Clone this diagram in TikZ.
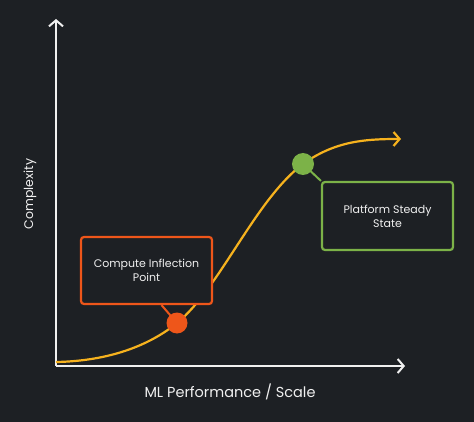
\documentclass[tikz,border=0pt]{standalone}
\usepackage{fontspec}
\setmainfont{Poppins}
\usetikzlibrary{arrows.meta,backgrounds}
\definecolor{bg}{RGB}{29,32,36}
\definecolor{ink}{RGB}{240,240,240}
\definecolor{curve}{RGB}{246,178,30}
\definecolor{infl}{RGB}{238,86,26}
\definecolor{steady}{RGB}{124,178,72}
\tikzset{
  every picture/.style={line width=1pt, font=\fontsize{11}{14}\selectfont},
  barb/.style={-{Straight Barb[length=6pt,width=14pt]}},
  axis/.style={barb, draw=ink, line width=2pt},
  growth/.style={barb, draw=curve, line width=2.2pt},
  callout/.style={rounded corners=3pt, fill=bg, line width=2.2pt, text=ink, align=center, minimum width=131pt},
  dot/.style={circle, inner sep=0pt},
  lead/.style={line width=2pt},
  axlbl/.style={text=ink},
}

\begin{document}
\begin{tikzpicture}[x=1pt, y=-1pt]
  \begin{scope}[on background layer]
    \fill[bg] (0,0) rectangle (474,422);
  \end{scope}
  \useasboundingbox (0,0) rectangle (474,422);
  % axes
  \coordinate (origin) at (56,366);
  \coordinate (ytop) at (56,19);
  \coordinate (xend) at (405,366);
  \draw[axis] (origin) -- (ytop);
  \draw[axis] (origin) -- (xend);
  \node[axlbl, rotate=90, font=\fontsize{12.5}{15}\selectfont] (ylbl) at (30,194) {Complexity};
  \node[axlbl, font=\fontsize{14.5}{17}\selectfont] (xlbl) at (230,392) {ML Performance / Scale};
  % s-curve
  \draw[growth] (56,362) .. controls (110,361) and (150,345) .. (177,323)
    .. controls (220,288) and (255,200) .. (303,164)
    .. controls (335,141) and (365,139) .. (401,139);
  % callouts
  \node[callout, draw=infl, minimum height=67pt] (inflbox) at (146.5,270.5) {Compute Inflection\\Point};
  \node[callout, draw=steady, minimum height=68pt] (steadybox) at (387.5,216) {Platform Steady\\State};
  \node[dot, fill=infl, minimum size=21pt] (inflpt) at (177,323) {};
  \node[dot, fill=steady, minimum size=22pt] (steadypt) at (303,164) {};
  \begin{scope}[on background layer]
    \draw[lead, infl] ([xshift=15pt]inflbox.south) -- (inflpt.center);
    \draw[lead, steady] (steadypt.center) -- (steadybox.north west);
  \end{scope}
\end{tikzpicture}
\end{document}
